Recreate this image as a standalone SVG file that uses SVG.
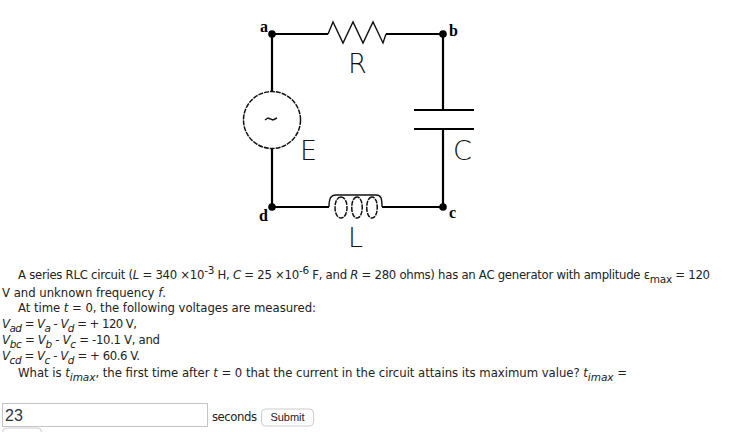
<svg xmlns="http://www.w3.org/2000/svg" width="730" height="432" viewBox="0 0 730 432">
<style>
.w{fill:none;stroke:#000;stroke-width:2.2}
.t{fill:none;stroke:#111;stroke-width:1.4}
.d{fill:none;stroke:#111;stroke-width:1.5;stroke-dasharray:5 1}
.dot{fill:#000}
.n{font-family:"Liberation Serif",serif;font-weight:bold;font-size:16px;fill:#000}
.c{font-family:"DejaVu Sans",sans-serif;font-weight:200;font-size:27px;fill:#111}
.p{font-family:"DejaVu Sans",sans-serif;font-size:11.7px;fill:#222}
.p .i{font-style:italic}
.p .s{font-size:10.5px}
</style>
<rect width="730" height="432" fill="#fff"/>
<g id="connectors">
<path class="w" d="M272 34H328M386 34H443V110M443 129V207H382M329 207H272V149M272 91V34"/>
</g>
<g id="node-a"><circle class="dot" cx="272" cy="34" r="3.8"/><text class="n" x="260" y="32">a</text></g>
<g id="node-b"><circle class="dot" cx="443" cy="34" r="3.8"/><text class="n" x="449" y="36">b</text></g>
<g id="node-c"><circle class="dot" cx="443" cy="207" r="3.8"/><text class="n" x="449" y="218">c</text></g>
<g id="node-d"><circle class="dot" cx="272" cy="207" r="3.8"/><text class="n" x="259" y="221">d</text></g>
<g id="resistor"><path class="t" d="M328 34L333 22L343 43L353 22L363 43L373 22L383 43L386 34"/><text class="c" x="348" y="73">R</text></g>
<g id="capacitor"><path class="w" d="M414 110H474M414 129H474"/><text class="c" x="453" y="160">C</text></g>
<g id="inductor"><path class="t" d="M329 207C329 198 331 195 336 195H376C381 195 382 198 382 207"/><path class="d" d="M341 197C333 197 333 218 341 218C349 218 349 197 341 197ZM357 197C350 197 350 218 357 218C364 218 364 197 357 197ZM372 197C365 197 365 218 372 218C379 218 379 197 372 197Z"/><text class="c" x="348" y="247">L</text></g>
<g id="generator"><circle class="d" cx="272" cy="120" r="28.5"/><path class="t" d="M265 120L268 118L273 120L277 118"/><text class="c" x="300" y="160">E</text></g>
<g id="problem">
<text class="p" x="18" y="279" textLength="692">A series RLC circuit (<tspan class="i">L</tspan> = 340 ×10<tspan class="s" dy="-5">-3</tspan><tspan dy="5"> H, </tspan><tspan class="i">C</tspan> = 25 ×10<tspan class="s" dy="-5">-6</tspan><tspan dy="5"> F, and </tspan><tspan class="i">R</tspan> = 280 ohms) has an AC generator with amplitude ε<tspan class="s" dy="4">max</tspan><tspan dy="-4"> = 120</tspan></text>
<text class="p" x="2" y="297" textLength="164">V and unknown frequency <tspan class="i">f</tspan>.</text>
<text class="p" x="18" y="312" textLength="298">At time <tspan class="i">t</tspan> = 0, the following voltages are measured:</text>
<text class="p" x="2" y="327.5" textLength="135"><tspan class="i">V</tspan><tspan class="i s" dy="4">ad</tspan><tspan dy="-4"> = </tspan><tspan class="i">V</tspan><tspan class="i s" dy="4">a</tspan><tspan dy="-4"> - </tspan><tspan class="i">V</tspan><tspan class="i s" dy="4">d</tspan><tspan dy="-4"> = + 120 V,</tspan></text>
<text class="p" x="2" y="344" textLength="158"><tspan class="i">V</tspan><tspan class="i s" dy="4">bc</tspan><tspan dy="-4"> = </tspan><tspan class="i">V</tspan><tspan class="i s" dy="4">b</tspan><tspan dy="-4"> - </tspan><tspan class="i">V</tspan><tspan class="i s" dy="4">c</tspan><tspan dy="-4"> = -10.1 V, and</tspan></text>
<text class="p" x="2" y="360" textLength="138"><tspan class="i">V</tspan><tspan class="i s" dy="4">cd</tspan><tspan dy="-4"> = </tspan><tspan class="i">V</tspan><tspan class="i s" dy="4">c</tspan><tspan dy="-4"> - </tspan><tspan class="i">V</tspan><tspan class="i s" dy="4">d</tspan><tspan dy="-4"> = + 60.6 V.</tspan></text>
<text class="p" x="18" y="377" textLength="609">What is <tspan class="i">t</tspan><tspan class="i s" dy="4">imax</tspan><tspan dy="-4">, the first time after </tspan><tspan class="i">t</tspan> = 0 that the current in the circuit attains its maximum value? <tspan class="i">t</tspan><tspan class="i s" dy="4">imax</tspan><tspan dy="-4"> =</tspan></text>
</g>
<g id="answer">
<rect x="2.5" y="403.5" width="205" height="23" fill="#fff" stroke="#c4c4c4"/>
<text x="5" y="421" font-family="Liberation Sans,sans-serif" font-size="16" fill="#333">23</text>
<text class="p" x="212" y="421" textLength="45">seconds</text>
<rect x="261.5" y="409" width="52" height="17" rx="4" fill="#fff" stroke="#ccc"/>
<text x="287.5" y="421" text-anchor="middle" font-family="Liberation Sans,sans-serif" font-size="11" fill="#222">Submit</text>
<rect x="2.5" y="428" width="39" height="12" rx="4" fill="#fff" stroke="#ccc"/>
</g>
</svg>
